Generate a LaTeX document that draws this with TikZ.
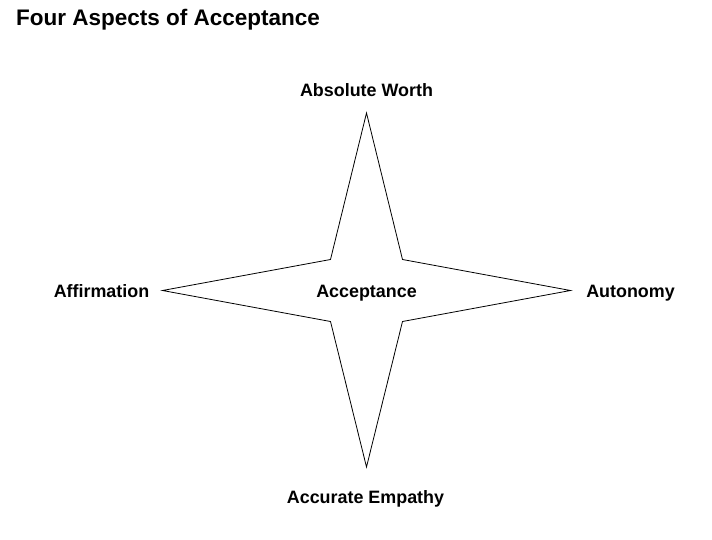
\documentclass[tikz,border=0pt]{standalone}
\usepackage{fontspec}
\setmainfont{Liberation Sans}
\usepackage{tikz}
\tikzset{>=latex}
\tikzset{heading/.style={font=\fontsize{22.5}{27}\selectfont\bfseries, inner sep=0pt, anchor=base west}}
\tikzset{aspect/.style={font=\fontsize{17.9}{21}\selectfont\bfseries, inner sep=0pt, anchor=base}}

\begin{document}
\begin{tikzpicture}[x=1pt, y=-1pt]
	  \useasboundingbox (0,0) rectangle (712,540);
	  \node[heading] (title) at (16,26) {Four Aspects of Acceptance};
	  % the four-pointed star
	  \draw[line width=0.8pt, line join=miter] (366.5,113) -- (402.5,259.5) -- (570.5,290.5) -- (402.5,321.5)
	    -- (366.5,467) -- (330.5,321.5) -- (162.5,290.5) -- (330.5,259.5) -- cycle;
	  \node[aspect] (centre) at (366.5,297) {Acceptance};
	  \node[aspect] (worth) at (366.5,96.5) {Absolute Worth};
	  \node[aspect] (empathy) at (365.5,503) {Accurate Empathy};
	  \node[aspect] (affirm) at (101.5,297) {Affirmation};
	  \node[aspect] (auton) at (630.5,297) {Autonomy};
\end{tikzpicture}
\end{document}
